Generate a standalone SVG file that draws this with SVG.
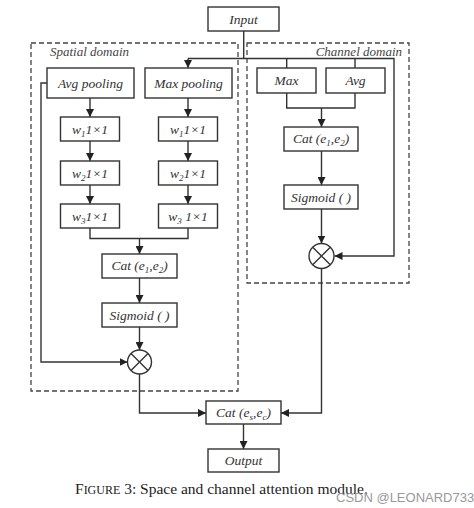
<svg xmlns="http://www.w3.org/2000/svg" width="474" height="508" viewBox="0 0 474 508">
<defs>
<marker id="ah" viewBox="0 0 10 10" refX="10" refY="5" markerWidth="8" markerHeight="8" markerUnits="userSpaceOnUse" orient="auto">
<path d="M0,0 L10,5 L0,10 z" fill="#222"/>
</marker>
</defs>
<style>
.box{fill:#fff;stroke:#333;stroke-width:1.4}
.dash{fill:none;stroke:#444;stroke-width:1.3;stroke-dasharray:5,3}
.ln{fill:none;stroke:#333;stroke-width:1.4}
.t{font-family:"Liberation Serif",serif;font-style:italic;font-size:13.5px;fill:#333;text-anchor:middle}
.lbl{font-family:"Liberation Serif",serif;font-style:italic;font-size:13px;fill:#444}
.sub{font-size:9px}
.cap{font-family:"Liberation Serif",serif;font-size:15.5px;fill:#222}
.wm{font-family:"Liberation Sans",sans-serif;font-size:13px;fill:#999}
</style>
<rect width="474" height="508" fill="#fff"/>

<g id="spatial-domain">
<rect class="dash" x="31" y="43" width="207" height="348"/>
<text class="lbl" x="50" y="56">Spatial domain</text>
</g>
<g id="channel-domain">
<rect class="dash" x="247" y="43" width="162" height="240"/>
<text class="lbl" x="402" y="56" text-anchor="end">Channel domain</text>
</g>

<g id="connectors">
<path class="ln" d="M243.7,31 V58.5"/>
<path class="ln" d="M188,58.5 H394 V256 H334.5" marker-end="url(#ah)"/>
<path class="ln" d="M188,58.5 V68" marker-end="url(#ah)"/>
<path class="ln" d="M286.7,58.5 V68 M355,58.5 V68"/>
<path class="ln" d="M47,83 H41 V362 H127.5" marker-end="url(#ah)"/>
<path class="ln" d="M90,98 V117" marker-end="url(#ah)"/>
<path class="ln" d="M90,141 V161" marker-end="url(#ah)"/>
<path class="ln" d="M90,185 V204" marker-end="url(#ah)"/>
<path class="ln" d="M188,98 V117" marker-end="url(#ah)"/>
<path class="ln" d="M188,141 V161" marker-end="url(#ah)"/>
<path class="ln" d="M188,185 V204" marker-end="url(#ah)"/>
<path class="ln" d="M90,228 V238.5 H188 V228"/>
<path class="ln" d="M139.5,238.5 V254" marker-end="url(#ah)"/>
<path class="ln" d="M139.5,278 V303" marker-end="url(#ah)"/>
<path class="ln" d="M139.5,327 V350" marker-end="url(#ah)"/>
<path class="ln" d="M286.7,93 V108 H355 V93"/>
<path class="ln" d="M321.5,108 V127" marker-end="url(#ah)"/>
<path class="ln" d="M321.5,151 V185" marker-end="url(#ah)"/>
<path class="ln" d="M321.5,209 V243.5" marker-end="url(#ah)"/>
<path class="ln" d="M139.5,374 V413 H206" marker-end="url(#ah)"/>
<path class="ln" d="M321.5,268.5 V413 H281" marker-end="url(#ah)"/>
<path class="ln" d="M243.5,424 V449" marker-end="url(#ah)"/>
</g>

<g id="input"><rect class="box" x="208" y="7" width="71" height="24"/><text class="t" x="243.5" y="23.5">Input</text></g>
<g id="avg-pooling"><rect class="box" x="47" y="68" width="87" height="30"/><text class="t" x="90.5" y="87.5">Avg pooling</text></g>
<g id="max-pooling"><rect class="box" x="145" y="68" width="87" height="30"/><text class="t" x="188.5" y="87.5">Max pooling</text></g>

<g id="w1-left"><rect class="box" x="60.5" y="117" width="59" height="24"/><text class="t" x="90" y="133.5">w<tspan class="sub" dy="3">1</tspan><tspan dy="-3">1×1</tspan></text></g>
<g id="w2-left"><rect class="box" x="60.5" y="161" width="59" height="24"/><text class="t" x="90" y="177.5">w<tspan class="sub" dy="3">2</tspan><tspan dy="-3">1×1</tspan></text></g>
<g id="w3-left"><rect class="box" x="60.5" y="204" width="59" height="24"/><text class="t" x="90" y="220.5">w<tspan class="sub" dy="3">3</tspan><tspan dy="-3">1×1</tspan></text></g>
<g id="w1-right"><rect class="box" x="158.5" y="117" width="59" height="24"/><text class="t" x="188" y="133.5">w<tspan class="sub" dy="3">1</tspan><tspan dy="-3">1×1</tspan></text></g>
<g id="w2-right"><rect class="box" x="158.5" y="161" width="59" height="24"/><text class="t" x="188" y="177.5">w<tspan class="sub" dy="3">2</tspan><tspan dy="-3">1×1</tspan></text></g>
<g id="w3-right"><rect class="box" x="158.5" y="204" width="59" height="24"/><text class="t" x="188" y="220.5">w<tspan class="sub" dy="3">3</tspan><tspan dy="-3"> 1×1</tspan></text></g>

<g id="cat-spatial"><rect class="box" x="102" y="254" width="75" height="24"/><text class="t" x="139.5" y="270">Cat (e<tspan class="sub" dy="3">1</tspan><tspan dy="-3">,e</tspan><tspan class="sub" dy="3">2</tspan><tspan dy="-3">)</tspan></text></g>
<g id="sigmoid-spatial"><rect class="box" x="102" y="303" width="75" height="24"/><text class="t" x="139.5" y="319.5">Sigmoid ( )</text></g>
<g id="mult-spatial"><circle cx="139.5" cy="362" r="12" fill="#fff" stroke="#333" stroke-width="1.4"/><path class="ln" d="M131,353.5 L148,370.5 M148,353.5 L131,370.5"/></g>

<g id="max"><rect class="box" x="257" y="68" width="59" height="25"/><text class="t" x="286.5" y="85">Max</text></g>
<g id="avg"><rect class="box" x="326" y="68" width="59" height="25"/><text class="t" x="355.5" y="85">Avg</text></g>
<g id="cat-channel"><rect class="box" x="284" y="127" width="74" height="24"/><text class="t" x="321" y="143">Cat (e<tspan class="sub" dy="3">1</tspan><tspan dy="-3">,e</tspan><tspan class="sub" dy="3">2</tspan><tspan dy="-3">)</tspan></text></g>
<g id="sigmoid-channel"><rect class="box" x="284" y="185" width="74" height="24"/><text class="t" x="321" y="201.5">Sigmoid ( )</text></g>
<g id="mult-channel"><circle cx="321.5" cy="256" r="12.5" fill="#fff" stroke="#333" stroke-width="1.4"/><path class="ln" d="M312.7,247.2 L330.3,264.8 M330.3,247.2 L312.7,264.8"/></g>

<g id="cat-final"><rect class="box" x="206" y="401" width="75" height="23"/><text class="t" x="243.5" y="416.5">Cat (e<tspan class="sub" dy="3">s</tspan><tspan dy="-3">,e</tspan><tspan class="sub" dy="3">c</tspan><tspan dy="-3">)</tspan></text></g>
<g id="output"><rect class="box" x="208" y="449" width="71" height="23"/><text class="t" x="243.5" y="465">Output</text></g>

<text class="cap" x="75" y="494">F<tspan font-size="12">IGURE</tspan> 3: Space and channel attention module.</text>
<text class="wm" x="336" y="502">CSDN @LEONARD733</text>
</svg>
